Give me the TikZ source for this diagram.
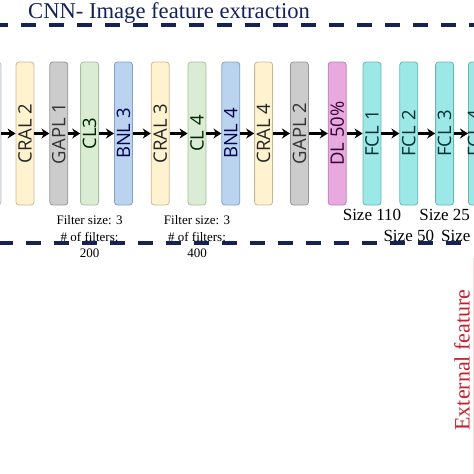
\documentclass[tikz,border=0pt]{standalone}
\usepackage{fontspec}
\setmainfont{Liberation Serif}
\newfontfamily\layerfont{Open Sans}
\usetikzlibrary{positioning}
\usetikzlibrary{arrows.meta}
\definecolor{navy}{RGB}{20,34,86}
\definecolor{extred}{RGB}{196,32,44}
\definecolor{cralfill}{RGB}{255,242,206}
\definecolor{cralline}{RGB}{200,186,150}
\definecolor{gaplfill}{RGB}{204,204,204}
\definecolor{gaplline}{RGB}{150,150,150}
\definecolor{clfill}{RGB}{218,236,212}
\definecolor{clline}{RGB}{168,190,160}
\definecolor{bnlfill}{RGB}{186,212,240}
\definecolor{bnlline}{RGB}{130,160,200}
\definecolor{dlfill}{RGB}{232,170,222}
\definecolor{dlline}{RGB}{180,130,175}
\definecolor{fclfill}{RGB}{156,232,230}
\definecolor{fclline}{RGB}{110,180,180}
\definecolor{prevfill}{RGB}{232,232,242}

\begin{document}
\begin{tikzpicture}[x=1pt, y=1pt, node distance=16pt,
    layer/.style={draw, rounded corners=3pt, minimum width=18pt, minimum height=143pt, inner sep=0pt, line width=0.8pt, font=\layerfont\fontsize{18.5}{18.5}\selectfont},
    cral/.style={layer, fill=cralfill, draw=cralline, text=black!85},
    gapl/.style={layer, fill=gaplfill, draw=gaplline, text=black!80},
    cl/.style={layer, fill=clfill, draw=clline, text=green!15!black},
    bnl/.style={layer, fill=bnlfill, draw=bnlline, text=blue!30!black},
    dl/.style={layer, fill=dlfill, draw=dlline, text=violet!40!black},
    fcl/.style={layer, fill=fclfill, draw=fclline, text=teal!40!black},
    flow/.style={-{Stealth[length=8pt,width=10pt]}, line width=2.2pt},
    note/.style={inner sep=0pt, align=center, font=\fontsize{13}{16.5}\selectfont},
    sizenote/.style={inner sep=0pt, font=\fontsize{17}{17}\selectfont},
    divider/.style={navy, line width=4pt, dash pattern=on 15pt off 13pt}]
    \useasboundingbox (0,0) rectangle (474,-474);

    % title and dividers
    \node (title) [anchor=west, inner sep=0pt, text=navy, font=\fontsize{22.6}{22.6}\selectfont] at (28,-13) {CNN- Image feature extraction};
    \coordinate (topl) at (-7,-25);
    \coordinate (topr) at (480,-25);
    \coordinate (botl) at (-2,-243);
    \coordinate (botr) at (480,-243);
    \draw[divider] (topl) -- (topr);

    % layers
    \node (prev) [layer, fill=prevfill, draw=gaplline!60] at (-8,-133.5) {};
    \node (cral2) [cral] at (25,-133.5) {\rotatebox{90}{CRAL 2}};
    \node (gapl1) [gapl, right=15pt of cral2] {\rotatebox{90}{GAPL 1}};
    \node (cl3) [cl, right=12pt of gapl1] {\rotatebox{90}{CL3}};
    \node (bnl3) [bnl, right=15pt of cl3] {\rotatebox{90}{BNL 3}};
    \node (cral3) [cral, right=18pt of bnl3] {\rotatebox{90}{CRAL 3}};
    \node (cl4) [cl, right=18pt of cral3] {\rotatebox{90}{CL 4}};
    \node (bnl4) [bnl, right=15pt of cl4] {\rotatebox{90}{BNL 4}};
    \node (cral4) [cral, right=14pt of bnl4] {\rotatebox{90}{CRAL 4}};
    \node (gapl2) [gapl, right=17pt of cral4] {\rotatebox{90}{GAPL 2}};
    \node (dl) [dl, right=19pt of gapl2] {\rotatebox{90}{DL 50\%}};
    \node (fcl1) [fcl, right=16pt of dl] {\rotatebox{90}{FCL 1}};
    \node (fcl2) [fcl, right=18pt of fcl1] {\rotatebox{90}{FCL 2}};
    \node (fcl3) [fcl, right=17pt of fcl2] {\rotatebox{90}{FCL 3}};
    \node (fcl4) [fcl, right=14pt of fcl3] {\hspace*{-6pt}\rotatebox{90}{FCL 4}};

    \foreach \a/\b in {prev/cral2, cral2/gapl1, gapl1/cl3, cl3/bnl3, bnl3/cral3, cral3/cl4, cl4/bnl4, bnl4/cral4, cral4/gapl2, gapl2/dl, dl/fcl1, fcl1/fcl2, fcl2/fcl3, fcl3/fcl4}
        \draw[flow] (\a) -- (\b);

    % layer notes
    \draw[divider] (botl) -- (botr);
    \node (cl3note) [note, below=10pt of cl3] {Filter size: 3\\\# of filters:\\200};
    \node (cl4note) [note, below=10pt of cl4] {Filter size: 3\\\# of filters:\\400};
    \node (fcl1note) [sizenote, below=4pt of fcl1] {Size 110};
    \node (fcl3note) [sizenote, below=4pt of fcl3] {Size 25};
    \node (fcl2note) [sizenote, below=25pt of fcl2] {Size 50};
    \node (fcl4note) [sizenote, anchor=west] at (441,-236) {Size};

    % external feature branch
    \node (ext) [rotate=90, inner sep=0pt, text=extred, font=\fontsize{22}{22}\selectfont] at (462,-360) {External feature};
    \draw[extred!15] (473,-258) -- (473,-474);
\end{tikzpicture}
\end{document}
